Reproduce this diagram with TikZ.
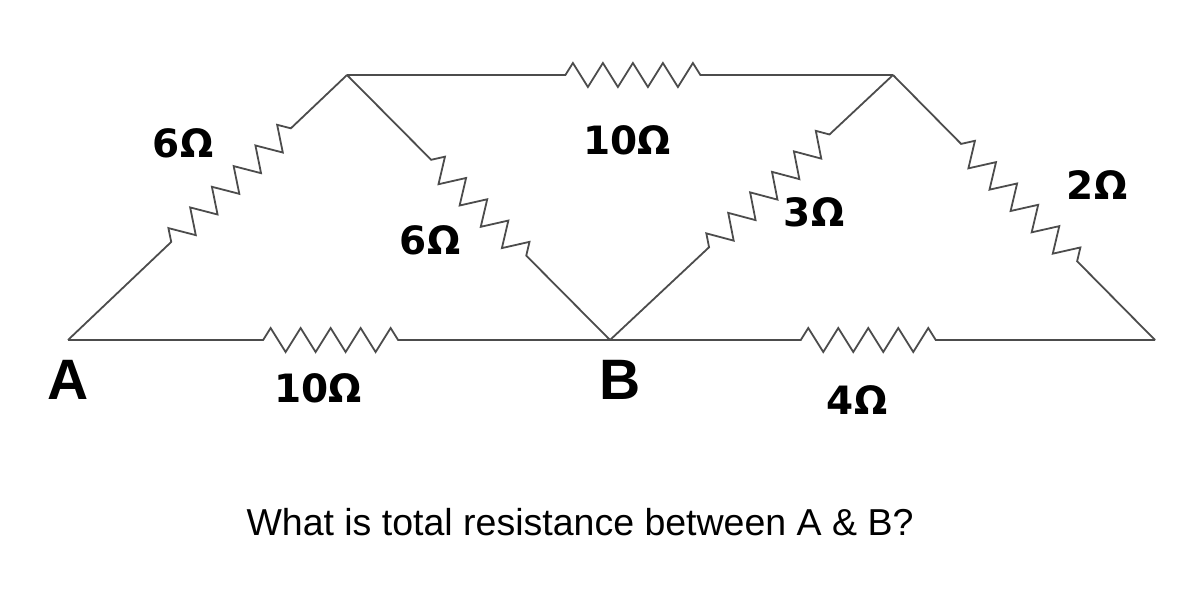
\documentclass[tikz,border=0pt]{standalone}
\usepackage{fontspec}
\setmainfont{Liberation Sans}
\newfontfamily\lblfont{DejaVu Sans}
\usetikzlibrary{decorations.pathmorphing,calc}
\begin{document}
\begin{tikzpicture}[x=1pt,y=-1pt,
  wire/.style={draw=black!70,line width=1.8pt},
  zz/.style={decoration={zigzag,amplitude=12pt,segment length=30pt}},
  val/.style={font=\lblfont\bfseries\fontsize{39}{44}\selectfont},
  term/.style={font=\bfseries\fontsize{57}{62}\selectfont}]
\useasboundingbox (0,0) rectangle (1178,590);
\coordinate (A) at (68,340);
\coordinate (T1) at (347,75);
\coordinate (T2) at (893,75);
\coordinate (B) at (610,340);
\coordinate (R) at (1155,340);
\newcommand{\res}[4]{\draw[wire,zz] (#1) -- ($(#1)!#3!(#2)$) decorate{-- ($(#1)!#4!(#2)$)} -- (#2);}
\res{A}{T1}{0.37}{0.80}
\res{T1}{B}{0.32}{0.70}
\res{T1}{T2}{0.40}{0.65}
\res{B}{T2}{0.35}{0.81}
\res{T2}{R}{0.26}{0.73}
\res{A}{B}{0.36}{0.61}
\res{B}{R}{0.35}{0.60}
\node[val] (l1) at (183,143) {6Ω};
\node[val] (l2) at (430,240) {6Ω};
\node[val] (l3) at (627,140) {10Ω};
\node[val] (l4) at (814,212) {3Ω};
\node[val] (l5) at (1097,185) {2Ω};
\node[val] (l6) at (318,388) {10Ω};
\node[val] (l7) at (857,400) {4Ω};
\node[term] (a) at (68,380) {A};
\node[term] (b) at (620,380) {B};
\node[font=\fontsize{37.5}{42}\selectfont] (q) at (580,522) {What is total resistance between A \& B?};
\end{tikzpicture}
\end{document}
